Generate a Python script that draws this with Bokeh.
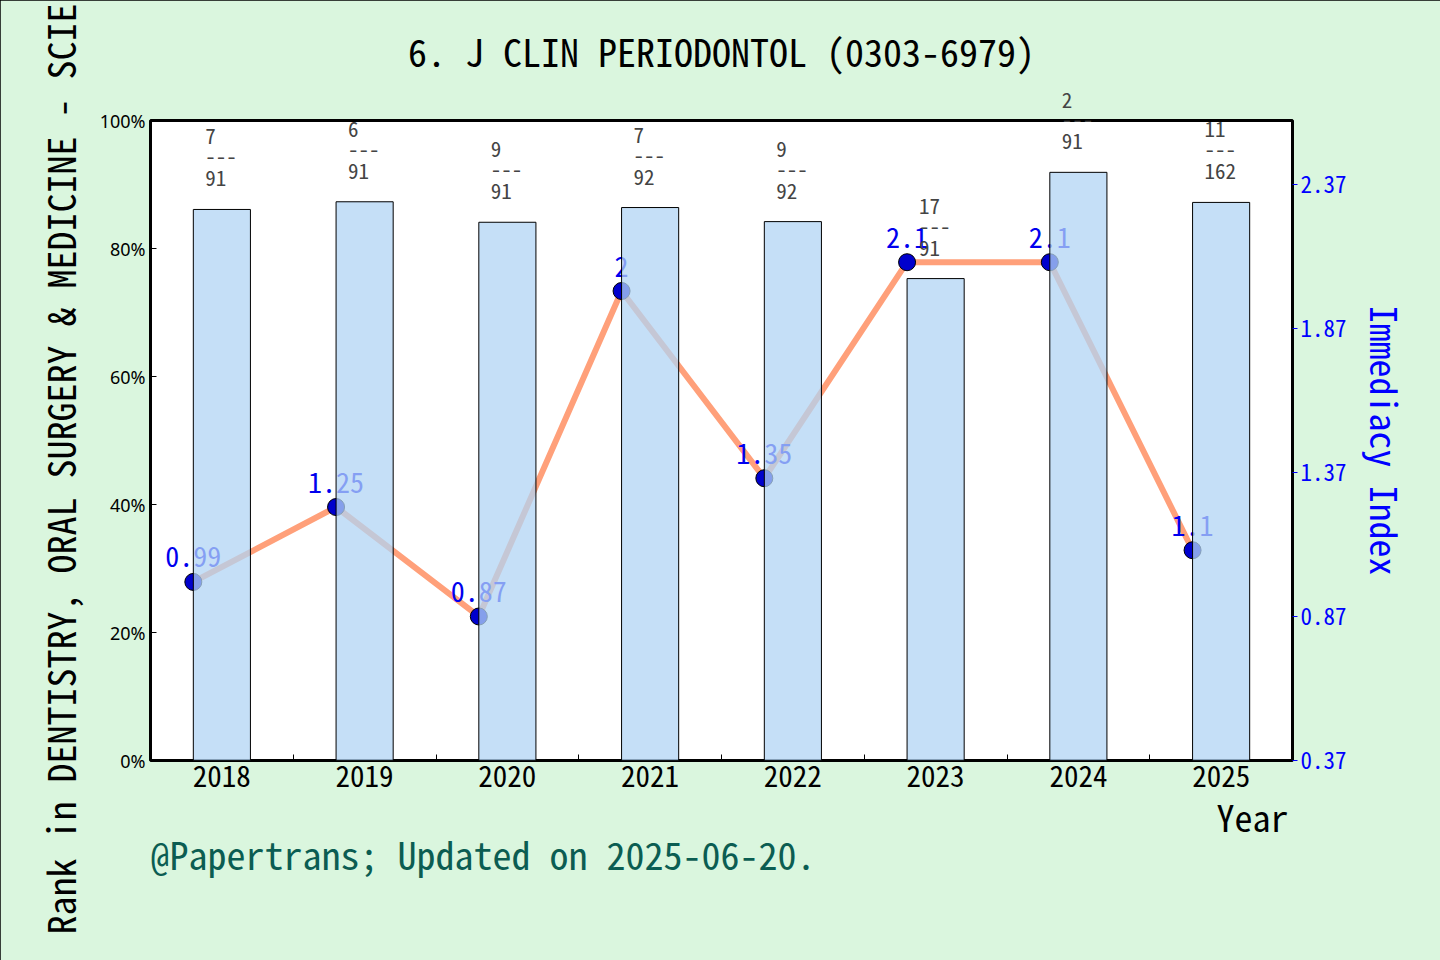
from bokeh.plotting import figure
from bokeh.models import LinearAxis, Range1d, FixedTicker, Title, LabelSet, ColumnDataSource
from bokeh.core.properties import value
from bokeh.embed import file_html
from bokeh.resources import INLINE

MONO = "'Noto Sans Mono CJK SC', 'DejaVu Sans Mono', monospace"
SANS = "'Noto Sans', sans-serif"
NBSP = "\u00a0"

years = ["2018", "2019", "2020", "2021", "2022", "2023", "2024", "2025"]
rank_pct = [86.1, 87.3, 84.1, 86.4, 84.2, 75.3, 91.9, 87.2]
rank_num = ["7", "6", "9", "7", "9", "17", "2", "11"]
rank_total = ["91", "91", "91", "92", "92", "91", "91", "162"]
immediacy = [0.99, 1.25, 0.87, 2.0, 1.35, 2.1, 2.1, 1.1]
immediacy_labels = ["0.99", "1.25", "0.87", "2", "1.35", "2.1", "2.1", "1.1"]
left_ticks = [0, 20, 40, 60, 80, 100]
right_ticks = [0.37, 0.87, 1.37, 1.87, 2.37]

idx = list(range(len(years)))
xpt = [i - 0.2 for i in idx]

W, H = 1440, 960
BL, BR, BT, BB = 150, 148, 120, 200
X0, X1 = -0.5, 7.5

p = figure(width=W, height=H, x_range=Range1d(X0, X1), y_range=Range1d(0, 100),
           output_backend="svg", toolbar_location=None, title_location=None,
           min_border_left=BL, min_border_right=BR, min_border_top=BT, min_border_bottom=BB,
           background_fill_color="white", border_fill_color="#daf6de")
p.styles = {"outline": "1px solid black", "outline-offset": "-1px"}
p.extra_y_ranges = {"ii": Range1d(0.37, 2.592)}
p.xgrid.visible = False
p.ygrid.visible = False
p.outline_line_color = "black"
p.outline_line_width = 3
p.outline_line_alpha = 1


def set_standoff(t, v, fallback=0):
    try:
        t.standoff = v
    except ValueError:
        t.standoff = fallback


# numerator labels that fall above the frame cannot be drawn inside it: put them in a title panel
frame_w = W - BL - BR
frame_h = H - BT - BB
for i in idx:
    if (100 - rank_pct[i]) / 100 * frame_h - 73 < 0:
        off = (xpt[i] - X0) / (X1 - X0) * frame_w + 12
        p.add_layout(Title(text=rank_num[i], align="left", offset=off, text_font=MONO,
                           text_font_size="21px", text_font_style="normal",
                           text_color="#444444", standoff=26), "above")

# main title
main_title = Title(text="6. J CLIN PERIODONTOL (0303-6979)", align="center", text_font=MONO,
                   text_font_size="38px", text_font_style="normal", text_color="black")
set_standoff(main_title, -3)
p.add_layout(main_title, "above")

# x axis
xa = p.xaxis[0]
xa.ticker = FixedTicker(ticks=idx, minor_ticks=[i + 0.5 for i in idx[:-1]])
xa.major_label_overrides = {i: y for i, y in zip(idx, years)}
xa.major_tick_in = 0
xa.major_tick_out = 0
xa.minor_tick_in = 6
xa.minor_tick_out = 0
xa.minor_tick_line_color = "black"
xa.axis_line_color = None
xa.major_label_text_font = MONO
xa.major_label_text_font_size = "29px"
xa.major_label_text_color = "black"
xa.major_label_standoff = 5
xa.axis_label = NBSP * 59 + "Year"
xa.axis_label_text_font = MONO
xa.axis_label_text_font_size = "36px"
xa.axis_label_text_font_style = "normal"
xa.axis_label_text_color = "black"
xa.axis_label_standoff = 0

# left axis
ya = p.yaxis[0]
ya.ticker = FixedTicker(ticks=left_ticks)
ya.major_label_overrides = {t: f"{t}%" for t in left_ticks}
ya.major_tick_in = 6
ya.major_tick_out = 0
ya.minor_tick_line_color = None
ya.axis_line_color = None
ya.major_label_text_font = SANS
ya.major_label_text_font_size = "18px"
ya.major_label_text_color = "black"
ya.major_label_standoff = 5
ya.axis_label = "Rank in DENTISTRY, ORAL SURGERY & MEDICINE - SCIE" + NBSP * 3
ya.axis_label_text_font = MONO
ya.axis_label_text_font_size = "38px"
ya.axis_label_text_font_style = "normal"
ya.axis_label_text_color = "black"
ya.axis_label_standoff = 10

# right axis
ra = LinearAxis(y_range_name="ii", ticker=FixedTicker(ticks=right_ticks))
ra.major_label_overrides = {t: f"{t:.2f}" for t in right_ticks}
ra.major_tick_in = 0
ra.major_tick_out = 5
ra.major_tick_line_color = "blue"
ra.minor_tick_line_color = None
ra.axis_line_color = None
ra.major_label_text_font = MONO
ra.major_label_text_font_size = "23px"
ra.major_label_text_color = "blue"
ra.major_label_standoff = 3
ra.axis_label = "Immediacy Index"
ra.axis_label_text_font = MONO
ra.axis_label_text_font_size = "36px"
ra.axis_label_text_font_style = "normal"
ra.axis_label_text_color = "blue"
ra.axis_label_standoff = 10
p.add_layout(ra, "right")

# footer
footer = Title(text="@Papertrans; Updated on 2025-06-20.", align="left", text_font=MONO,
               text_font_size="38px", text_font_style="normal", text_color="#0b5d52",
               vertical_align="top")
set_standoff(footer, -37)
p.add_layout(footer, "below")

# immediacy line, markers, labels (under the translucent bars)
p.line(xpt, immediacy, y_range_name="ii", line_color="#ffa07a", line_width=6)
p.scatter(xpt, immediacy, y_range_name="ii", size=17, fill_color="#0000cd", line_color="black", line_width=1)
p.text(xpt, immediacy, text=immediacy_labels, y_range_name="ii", y_offset=-25,
       text_align="center", text_baseline="middle", text_color="#0000ee",
       text_font=value(MONO), text_font_size="28px")

# rank bars
p.vbar(x=idx, top=rank_pct, bottom=0, width=0.4, fill_color="#b1d4f4", fill_alpha=0.75,
       line_color="black", line_width=1)

# rank fraction labels
src = ColumnDataSource(dict(x=xpt, y=rank_pct, num=rank_num, dash=["---"] * len(idx), tot=rank_total))
for col, off in [("num", 73), ("dash", 53), ("tot", 31)]:
    p.add_layout(LabelSet(x="x", y="y", text=col, source=src, x_offset=12, y_offset=off,
                          text_align="left", text_baseline="middle", text_color="#444444",
                          text_font=value(MONO), text_font_size="21px"))

open("out.html", "w").write(file_html(p, INLINE))
